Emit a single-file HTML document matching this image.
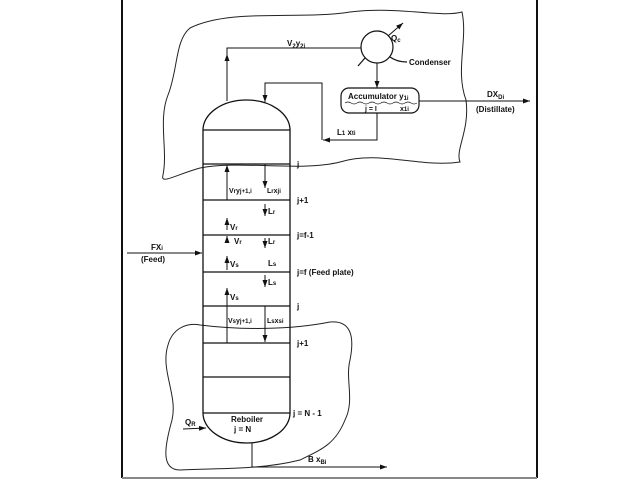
<!DOCTYPE html>
<html><head><style>
html,body{margin:0;padding:0;background:#fff;width:638px;height:479px;overflow:hidden}
svg{display:block}
text{font-family:"Liberation Sans",sans-serif;font-weight:bold;fill:#111}
</style></head><body>
<svg width="638" height="479" viewBox="0 0 638 479">
<defs><marker id="a" markerWidth="8" markerHeight="8" refX="7" refY="4" orient="auto" markerUnits="userSpaceOnUse"><path d="M0,1.5 L7,4 L0,6.5z" fill="#111"/></marker></defs>
<line x1="122" y1="0" x2="122" y2="478" stroke="#111" stroke-width="2"/>
<line x1="537" y1="0" x2="537" y2="478" stroke="#111" stroke-width="2"/>
<line x1="122" y1="478" x2="537" y2="478" stroke="#888" stroke-width="2"/>
<g fill="none" stroke="#222" stroke-width="1">
<path d="M190,28 C230,8 300,20 350,12 C400,6 440,18 462,12 C468,40 455,70 466,100 C470,130 455,150 460,162 C420,168 380,150 340,162 C300,172 240,160 200,168 C175,175 160,185 163,175 C168,150 158,120 168,95 C178,70 175,40 190,28 Z"/>
<path d="M200,325 C240,330 290,330 330,322 C350,320 355,335 350,360 C345,380 355,400 345,420 C335,445 320,450 300,460 C260,470 220,468 180,470 C160,470 165,445 172,420 C178,395 160,370 168,345 C172,330 185,322 200,325 Z"/>
</g>
<g fill="none" stroke="#111" stroke-width="1.3">
<path d="M203,130 A43.5,30 0 0 1 290,130"/>
<line x1="203" y1="130" x2="203" y2="413"/>
<line x1="290" y1="130" x2="290" y2="413"/>
<path d="M203,413 A43.5,30 0 0 0 290,413"/>
<line x1="203" y1="130" x2="290" y2="130"/>
<line x1="203" y1="164" x2="290" y2="164"/>
<line x1="203" y1="200" x2="290" y2="200"/>
<line x1="203" y1="235" x2="290" y2="235"/>
<line x1="203" y1="272" x2="290" y2="272"/>
<line x1="203" y1="306" x2="290" y2="306"/>
<line x1="203" y1="343" x2="290" y2="343"/>
<line x1="203" y1="377" x2="290" y2="377"/>
<line x1="203" y1="413" x2="290" y2="413"/>
</g>
<g fill="none" stroke="#111" stroke-width="1" marker-end="url(#a)">
<polyline points="227,101 227,48 361,48" marker-end="none"/>
<line x1="227" y1="70" x2="227" y2="54"/>
<line x1="377" y1="63" x2="377" y2="88"/>
<line x1="419" y1="101" x2="530" y2="101"/>
<polyline points="377,113 377,140 323,140"/>
<polyline points="322,140 322,83 265,83 265,102"/>
<line x1="388" y1="36" x2="403" y2="23"/>
<line x1="227" y1="200" x2="227" y2="165"/>
<line x1="265" y1="164" x2="265" y2="188"/>
<line x1="265" y1="204" x2="265" y2="216"/>
<line x1="227" y1="230" x2="227" y2="218"/>
<line x1="227" y1="243" x2="227" y2="236"/>
<line x1="265" y1="238" x2="265" y2="248"/>
<line x1="227" y1="270" x2="227" y2="256"/>
<line x1="265" y1="275" x2="265" y2="287"/>
<line x1="227" y1="343" x2="227" y2="288"/>
<line x1="265" y1="306" x2="265" y2="342"/>
<line x1="127" y1="253" x2="202" y2="253"/>
<line x1="183" y1="429" x2="206" y2="428"/>
<polyline points="252,443 252,467 387,467"/>
</g>
<g fill="none" stroke="#111" stroke-width="1.2">
<circle cx="377" cy="47" r="16"/>
<line x1="365" y1="58" x2="358" y2="66"/>
<path d="M390,57 Q397,62 407,62"/>
<rect x="341" y="88" width="78" height="25" rx="8"/>
<path d="M345,103 q3,-2 6,0 t6,0 t6,0 t6,0 t6,0 t6,0 t6,0 t6,0 t6,0 t6,0 t6,0 t6,0" stroke-width="0.7"/>
</g>
<g font-size="8">
<text x="287" y="46">V<tspan font-size="6" dy="2">2</tspan><tspan dy="-2">y</tspan><tspan font-size="6" dy="2">2i</tspan></text>
<text x="391" y="41">Q<tspan font-size="6" dy="1">c</tspan></text>
<text x="409" y="65">Condenser</text>
<text x="348" y="99">Accumulator  y<tspan font-size="6" dy="1">1i</tspan></text>
<text x="365" y="111" font-size="7">j = I</text>
<text x="400" y="111" font-size="7">x<tspan font-size="6">1i</tspan></text>
<text x="487" y="97">DX<tspan font-size="6" dy="2">Di</tspan></text>
<text x="476" y="112">(Distillate)</text>
<text x="337" y="135">L<tspan font-size="6">1</tspan> x<tspan font-size="6">ti</tspan></text>
<text x="297" y="167">j</text>
<text x="229" y="193" font-size="7">V<tspan font-size="6">r</tspan>y<tspan font-size="6">j+1,i</tspan></text>
<text x="267" y="193" font-size="7">L<tspan font-size="6">r</tspan>x<tspan font-size="6">ji</tspan></text>
<text x="297" y="203">j+1</text>
<text x="268" y="214">L<tspan font-size="6">r</tspan></text>
<text x="230" y="230">V<tspan font-size="6">r</tspan></text>
<text x="297" y="238">j=f-1</text>
<text x="234" y="244">V<tspan font-size="6">r</tspan></text>
<text x="268" y="244">L<tspan font-size="6">r</tspan></text>
<text x="151" y="250">FX<tspan font-size="6">i</tspan></text>
<text x="141" y="262">(Feed)</text>
<text x="230" y="267">V<tspan font-size="6">s</tspan></text>
<text x="268" y="266">L<tspan font-size="6">s</tspan></text>
<text x="297" y="275">j=f   (Feed plate)</text>
<text x="268" y="285">L<tspan font-size="6">s</tspan></text>
<text x="230" y="300">V<tspan font-size="6">s</tspan></text>
<text x="297" y="309">j</text>
<text x="228" y="323" font-size="7">V<tspan font-size="6">s</tspan>y<tspan font-size="6">j+1,i</tspan></text>
<text x="267" y="323" font-size="7">L<tspan font-size="6">s</tspan>x<tspan font-size="6">si</tspan></text>
<text x="297" y="346">j+1</text>
<text x="293" y="416">j = N - 1</text>
<text x="231" y="422" font-weight="normal">Reboiler</text>
<text x="234" y="432" font-weight="normal">j = N</text>
<text x="185" y="425">Q<tspan font-size="6" dy="1">R</tspan></text>
<text x="308" y="462">B x<tspan font-size="6" dy="2">Bi</tspan></text>
</g>
</svg>
</body></html>
